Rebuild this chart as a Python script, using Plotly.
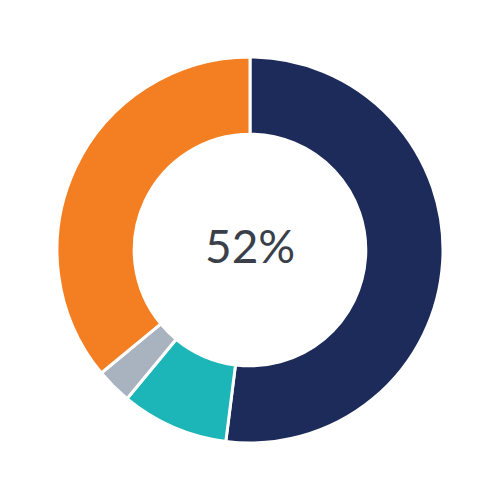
import plotly.graph_objects as go

labels = ["A", "B", "C", "D"]
values = [52, 9, 3, 36]
colors = ["#1c2b5a", "#1cb5b8", "#a9b3bf", "#f37f22"]
center_text = "52%"

fig = go.Figure(go.Pie(
    labels=labels, values=values, hole=0.6, sort=False,
    direction="clockwise", rotation=0,
    marker=dict(colors=colors, line=dict(color="white", width=3)),
    textinfo="none", hoverinfo="label+percent", showlegend=False,
))
fig.add_annotation(text=center_text, x=0.5, y=0.5, xref="paper", yref="paper",
                   yshift=5, showarrow=False,
                   font=dict(family="Lato", size=46, color="#3a3f4a"))
fig.update_layout(width=500, height=500, margin=dict(l=49, r=65, t=49, b=65),
                  paper_bgcolor="white", plot_bgcolor="white")
fig.write_html("out.html")
